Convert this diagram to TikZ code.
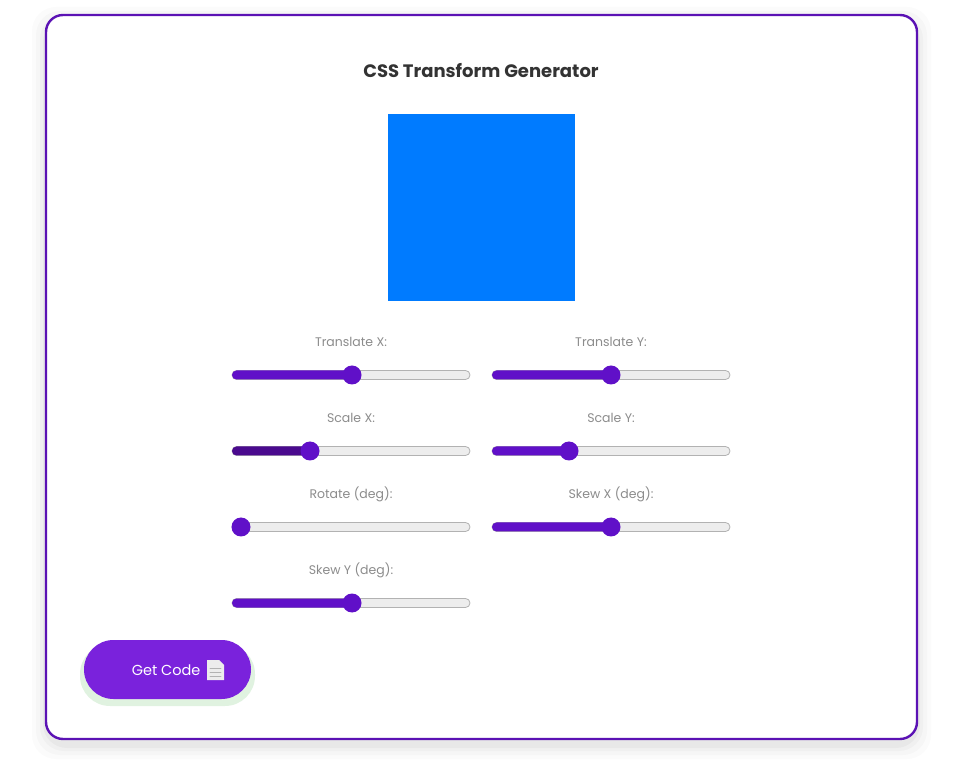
\documentclass[tikz,border=0pt]{standalone}
\usepackage{fontspec}
\setmainfont{Poppins}
\definecolor{cardedge}{HTML}{5B12B4}
\definecolor{boxblue}{HTML}{007BFF}
\definecolor{slidefill}{HTML}{6010C8}
\definecolor{slidedark}{HTML}{4A0A8E}
\definecolor{trackgray}{HTML}{EDEDED}
\definecolor{labelgray}{HTML}{8C8C8C}
\definecolor{btnpurple}{HTML}{7A22DC}
\begin{document}
\begin{tikzpicture}[x=1pt,y=-1pt,line cap=round,line join=round]
\tikzset{
  lbl/.style={text=labelgray,font=\fontsize{12.5}{14}\selectfont},
  track/.style={draw=black!30,fill=trackgray,line width=0.8pt},
  thumb/.style={circle,fill=slidefill,inner sep=0pt,minimum size=19pt}
}
\useasboundingbox (0,0) rectangle (970,775);
% soft shadow round the card
\foreach \s/\o in {14/0.015,10/0.02,6/0.025,3/0.03}
  \fill[black,opacity=\o,rounded corners=24] (46-\s,15-\s+6) rectangle (917+\s,739+\s+6);
\draw[cardedge,fill=white,line width=2.4pt,rounded corners=17] (46,15) rectangle (917,739);
\node[font=\fontsize{18}{20}\selectfont\bfseries,text=black!80] (title) at (481,71) {CSS Transform Generator};
\fill[boxblue] (388,114) rectangle (575,301);
% sliders: x0 / y / thumb / label / fill colour
\foreach \x/\y/\t/\l/\c in {232/375/352/Translate X:/slidefill,492/375/611/Translate Y:/slidefill,
    232/451/310/Scale X:/slidedark,492/451/569/Scale Y:/slidefill,
    232/527/241/Rotate (deg):/slidefill,492/527/611/Skew X (deg):/slidefill,
    232/603/352/Skew Y (deg):/slidefill}{
  \node[lbl] at (\x+119,\y-33) {\l};
  \draw[track,rounded corners=4.5] (\x,\y-4.5) rectangle (\x+238,\y+4.5);
  \fill[\c,rounded corners=4.5] (\x,\y-4.5) rectangle (\t,\y+4.5);
  \node[thumb] at (\t,\y) {};
}
% button
\fill[green!60!black,opacity=0.12,rounded corners=30] (80,644) rectangle (255,706);
\fill[btnpurple,rounded corners=29.5] (84,640) rectangle (251,699);
\node[text=white,font=\fontsize{14.5}{16}\selectfont,anchor=east] (btn) at (204,670) {Get Code};
\fill[white!85!gray] (207,660) -- (219,660) -- (224,665) -- (224,680) -- (207,680) -- cycle;
\foreach \yy in {668,672,676} \draw[gray!60,line width=0.6pt] (210,\yy) -- (221,\yy);
\end{tikzpicture}
\end{document}
